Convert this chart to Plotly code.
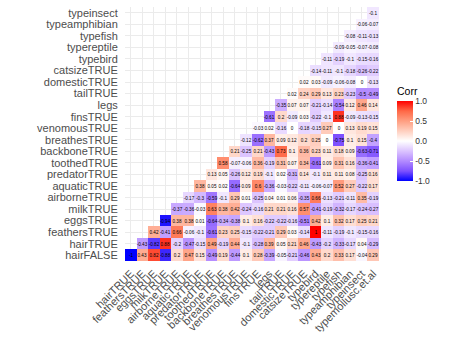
import plotly.graph_objects as go

# Variables of the zoo correlation matrix (dummy-coded)
variables = [
    "hairFALSE", "hairTRUE", "feathersTRUE", "eggsTRUE", "milkTRUE",
    "airborneTRUE", "aquaticTRUE", "predatorTRUE", "toothedTRUE",
    "backboneTRUE", "breathesTRUE", "venomousTRUE", "finsTRUE", "legs",
    "tailTRUE", "domesticTRUE", "catsizeTRUE", "typebird", "typereptile",
    "typefish", "typeamphibian", "typeinsect", "typemollusc.et.al",
]

# Correlations of each variable with every later variable in the list
corr_hairFALSE = [-1, 0.43, 0.82, -0.88, 0.2, 0.47, 0.15, -0.49, 0.19, -0.44, 0.1,
                  0.28, -0.39, -0.05, -0.21, -0.46, 0.43, 0.2, 0.33, 0.17, -0.04, 0.29]
corr_hairTRUE = [-0.43, -0.82, 0.88, -0.2, -0.47, -0.15, 0.49, -0.19, 0.44, -0.1,
                 -0.28, 0.39, 0.05, 0.21, 0.46, -0.43, -0.2, -0.33, -0.17, 0.04, -0.29]
corr_feathersTRUE = [0.42, -0.41, 0.66, -0.06, -0.1, -0.61, 0.23, 0.25, -0.15, -0.22,
                     -0.21, 0.29, 0.03, -0.14, 1, -0.11, -0.19, -0.1, -0.15, -0.16]
corr_eggsTRUE = [-0.94, 0.38, 0.38, 0.01, -0.64, -0.34, -0.38, 0.1, 0.16, -0.22,
                 -0.22, -0.16, -0.51, 0.42, 0.1, 0.32, 0.17, 0.25, 0.21]
corr_milkTRUE = [-0.37, -0.36, -0.03, 0.63, 0.38, 0.42, -0.24, -0.16, 0.21, 0.21,
                 0.16, 0.57, -0.41, -0.19, -0.32, -0.17, -0.24, -0.27]
corr_airborneTRUE = [-0.17, -0.3, -0.59, -0.1, 0.29, 0.01, -0.25, 0.04, 0.01, 0.06,
                     -0.35, 0.66, -0.13, -0.21, -0.11, 0.35, -0.19]
corr_aquaticTRUE = [0.38, 0.05, 0.02, -0.64, 0.09, 0.6, -0.36, -0.03, -0.22, -0.11,
                    -0.06, -0.07, 0.52, 0.27, -0.22, 0.17]
corr_predatorTRUE = [0.13, 0.05, -0.26, 0.12, 0.19, -0.1, 0.02, -0.31, 0.14, -0.1,
                     0.11, 0.11, 0.08, -0.25, 0.16]
corr_toothedTRUE = [0.58, -0.07, -0.06, 0.36, -0.19, 0.31, 0.07, 0.34, -0.61, 0.09,
                    0.31, 0.16, -0.36, -0.41]
corr_backboneTRUE = [0.21, -0.25, 0.21, -0.43, 0.73, 0.1, 0.36, 0.23, 0.11, 0.18,
                     0.09, -0.63, -0.71]
corr_breathesTRUE = [-0.12, -0.62, 0.37, 0.09, 0.12, 0.2, 0.25, 0, -0.75, 0.1, 0.15, -0.4]
corr_venomousTRUE = [-0.03, 0.02, -0.16, 0, -0.18, -0.15, 0.27, 0, 0.13, 0.19, 0.15]
corr_finsTRUE = [-0.61, 0.2, -0.09, 0.03, -0.22, -0.1, 0.88, -0.09, -0.13, -0.15]
corr_legs = [-0.35, 0.07, 0.07, -0.21, -0.14, -0.54, 0.12, 0.46, 0.14]
corr_tailTRUE = [0.02, 0.24, 0.29, 0.13, 0.23, -0.23, -0.5, -0.49]
corr_domesticTRUE = [0.02, 0.03, -0.09, -0.06, -0.08, 0, -0.13]
corr_catsizeTRUE = [-0.14, -0.11, -0.1, -0.18, -0.26, -0.22]
corr_typebird = [-0.11, -0.19, -0.1, -0.15, -0.16]
corr_typereptile = [-0.09, -0.05, -0.07, -0.08]
corr_typefish = [-0.08, -0.11, -0.13]
corr_typeamphibian = [-0.06, -0.07]
corr_typeinsect = [-0.1]

rows = [
    corr_hairFALSE, corr_hairTRUE, corr_feathersTRUE, corr_eggsTRUE, corr_milkTRUE,
    corr_airborneTRUE, corr_aquaticTRUE, corr_predatorTRUE, corr_toothedTRUE,
    corr_backboneTRUE, corr_breathesTRUE, corr_venomousTRUE, corr_finsTRUE, corr_legs,
    corr_tailTRUE, corr_domesticTRUE, corr_catsizeTRUE, corr_typebird,
    corr_typereptile, corr_typefish, corr_typeamphibian, corr_typeinsect,
]

x_labels = variables[1:]
y_labels = variables[:-1]
n = len(y_labels)

z, txt = [], []
for i, vals in enumerate(rows):
    zr = [None] * i + list(vals)
    z.append(zr)
    txt.append(["" if v is None else f"{round(v, 2):g}" for v in zr])

# Diverging blue-white-red scale (Lab-like interpolation)
colorscale = [
    [0.0, "rgb(0,0,255)"],
    [0.125, "rgb(126,81,255)"],
    [0.25, "rgb(179,139,255)"],
    [0.375, "rgb(220,196,255)"],
    [0.5, "rgb(255,255,255)"],
    [0.625, "rgb(255,207,191)"],
    [0.75, "rgb(255,158,129)"],
    [0.875, "rgb(255,104,70)"],
    [1.0, "rgb(255,0,0)"],
]

W, H = 474, 338
ML, MR, MT, MB = 125, 95, 7, 77
PW, PH = W - ML - MR, H - MT - MB


def px_x(px):
    return (px - ML) / PW


def px_y(py):
    return 1 - (py - MT) / PH


fig = go.Figure(go.Heatmap(
    z=z, x=x_labels, y=y_labels, text=txt, texttemplate="%{text}",
    textfont=dict(size=4.6, color="black", family="Liberation Sans"),
    colorscale=colorscale, zmin=-1, zmax=1, hoverinfo="skip",
    colorbar=dict(
        x=px_x(397), xanchor="left", y=px_y(101), yanchor="top",
        len=80, lenmode="pixels", thickness=16, outlinewidth=0,
        xpad=0, ypad=0,
        tickvals=[1, 0.5, 0, -0.5, -1], ticktext=["1.0", "0.5", "0.0", "-0.5", "-1.0"],
        ticks="inside", ticklen=3, tickcolor="white",
        tickfont=dict(size=8.5, color="#333333"),
    ),
))

fig.add_annotation(
    text="Corr", xref="paper", yref="paper", showarrow=False,
    x=px_x(396), y=px_y(91), xanchor="left", yanchor="middle",
    borderpad=0,
    font=dict(size=10.5, color="black", family="Liberation Sans"),
)

fig.update_layout(
    width=W, height=H,
    margin=dict(l=ML, r=MR, t=MT, b=MB, autoexpand=False),
    paper_bgcolor="white", plot_bgcolor="white",
    font=dict(family="Liberation Sans"),
    xaxis=dict(
        type="category", categoryorder="array", categoryarray=x_labels,
        tickmode="linear", dtick=1, tick0=0,
        range=[-0.5, n - 0.5], tickangle=-45, showgrid=True, gridcolor="#EBEBEB",
        gridwidth=1, zeroline=False, showline=False,
        tickfont=dict(size=11, color="#4D4D4D"),
        ticks="outside", ticklen=1, tickcolor="rgba(0,0,0,0)",
    ),
    yaxis=dict(
        type="category", categoryorder="array", categoryarray=y_labels,
        tickmode="linear", dtick=1, tick0=0,
        range=[-0.5, n - 0.5], showgrid=True, gridcolor="#EBEBEB", gridwidth=1,
        zeroline=False, showline=False,
        tickfont=dict(size=11, color="#4D4D4D"),
        ticks="outside", ticklen=4, tickcolor="rgba(0,0,0,0)",
    ),
)

fig.write_html("out.html")
